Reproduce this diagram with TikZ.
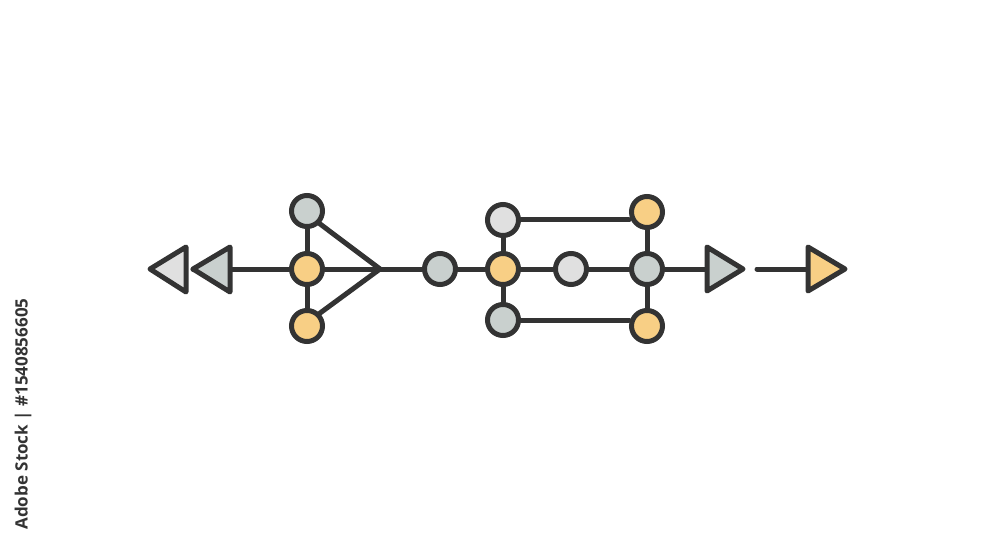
\documentclass[tikz,border=0pt]{standalone}
\usepackage{fontspec}
\newfontfamily\stockfont{Open Sans}
\definecolor{ink}{HTML}{333333}
\definecolor{pale}{HTML}{E0E0E0}
\definecolor{sage}{HTML}{C9D0CE}
\definecolor{amber}{HTML}{F8CF85}
\pgfdeclarelayer{background}
\pgfsetlayers{background,main}
\tikzset{
  dot/.style={circle, draw=ink, line width=5pt, minimum size=31pt, inner sep=0pt},
  wire/.style={draw=ink, line width=5pt, line cap=round, line join=round},
  tri/.style={draw=ink, line width=5pt, line join=round}
}
\begin{document}
\begin{tikzpicture}[x=1pt,y=-1pt]
\useasboundingbox (0,0) rectangle (1000,545);
\coordinate (t1tip) at (150,269);
\coordinate (t2tip) at (193,269);
\coordinate (apex) at (380,269);
\coordinate (t3back) at (707,269);
\coordinate (tail) at (757,269);
\coordinate (t4back) at (808,269);
\node[dot, fill=sage]  (a1) at (307,211) {};
\node[dot, fill=amber] (a2) at (307,269) {};
\node[dot, fill=amber] (a3) at (307,326) {};
\node[dot, fill=sage]  (b)  at (440,269) {};
\node[dot, fill=pale]  (c1) at (503,220) {};
\node[dot, fill=amber] (c2) at (503,269) {};
\node[dot, fill=sage]  (c3) at (503,320) {};
\node[dot, fill=pale]  (d)  at (571,269) {};
\node[dot, fill=amber] (e1) at (647,212) {};
\node[dot, fill=sage]  (e2) at (647,269) {};
\node[dot, fill=amber] (e3) at (647,326) {};
\begin{pgfonlayer}{background}
\fill[white] (0,0) rectangle (1000,545);
\path[wire] (t2tip) -- (a2.west);
\path[wire] (a2.east) -- (apex) -- (b.west);
\path[wire] (a1.south east) -- (apex) -- (a3.north east);
\path[wire] (a1.south) -- (a2.north);
\path[wire] (a2.south) -- (a3.north);
\path[wire] (b.east) -- (c2.west);
\path[wire] (c2.east) -- (d.west);
\path[wire] (d.east) -- (e2.west);
\path[wire] (c1.south) -- (c2.north);
\path[wire] (c2.south) -- (c3.north);
\path[wire] (e1.south) -- (e2.north);
\path[wire] (e2.south) -- (e3.north);
\path[wire] (c1.east) -- (c1.east -| e1.west);
\path[wire] (c3.east) -- (c3.east -| e3.west);
\path[wire] (e2.east) -- (t3back);
\path[wire] (tail) -- (t4back);
\end{pgfonlayer}
\path[tri, fill=pale] (t1tip) -- (186,247) -- (186,292) -- cycle;
\path[tri, fill=sage] (t2tip) -- (230,247) -- (230,292) -- cycle;
\path[tri, fill=sage] (t3back) ++(0,-22) -- (743,269) -- (707,291) -- cycle;
\path[tri, fill=amber] (t4back) ++(0,-22) -- (845,269) -- (808,291) -- cycle;
\node[rotate=90, text=ink, font=\stockfont\bfseries\fontsize{17}{20}\selectfont, inner sep=0pt] (lbl) at (23,414) {Adobe Stock | \#1540856605};
\end{tikzpicture}
\end{document}
